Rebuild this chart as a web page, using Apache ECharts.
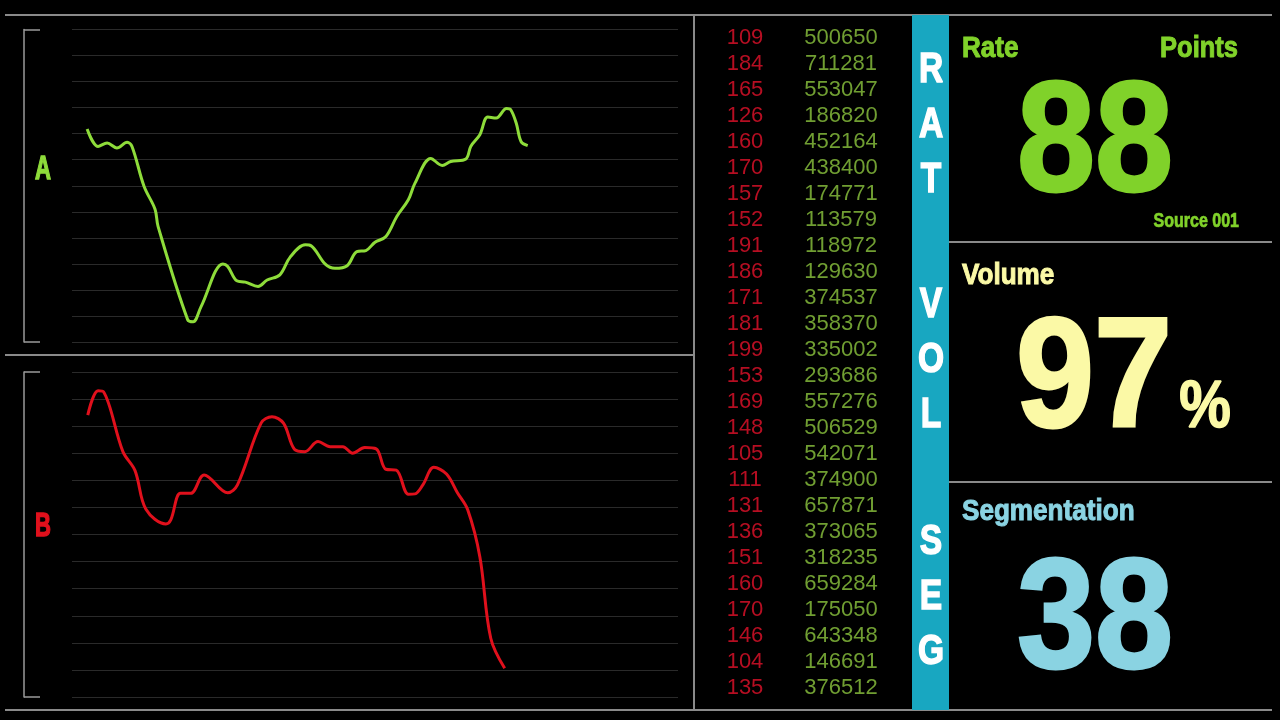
<!DOCTYPE html>
<html><head><meta charset="utf-8">
<script src="https://cdn.jsdelivr.net/npm/echarts@6/dist/echarts.min.js"></script>
<style>html,body{margin:0;padding:0;background:#000;}#c{width:1280px;height:720px;}</style>
</head><body><div id="c"></div>
<script>
// ---- data ----
const xA = [2.5,4.3,5.8,7.4,9.1,9.9,11.9,13.7,14.2,19.1,20.0,21.3,24.9,25.7,27.2,28.6,30.7,32.2,34.3,36.0,38.5,39.5,41.8,43.4,45.4,47.0,48.5,50.0,51.8,53.6,55.5,56.6,59.2,61.1,62.5,65.0,65.8,67.3,68.6,70.0,71.7,72.4,73.3,74.1,75.2];
const yA = [8.18,7.51,7.64,7.45,7.67,7.51,5.97,5.10,4.44,0.85,0.78,1.36,3.0,2.9,2.35,2.30,2.13,2.38,2.58,3.26,3.73,3.69,2.99,2.83,2.93,3.47,3.51,3.83,4.05,4.82,5.46,6.10,7.05,6.78,6.93,7.03,7.51,7.96,8.64,8.60,8.97,8.92,8.41,7.70,7.54];
const xB = [2.6,4.3,5.2,8.4,10.4,12.2,15.5,16.3,17.9,19.6,21.8,25.7,27.3,31.2,33.0,34.9,36.7,38.4,40.6,42.6,44.7,46.3,48.3,50.2,51.8,53.5,55.5,56.6,57.9,59.7,61.8,63.6,65.3,67.3,69.1,71.4];
const yB = [10.41,11.31,11.27,9.06,8.36,6.93,6.39,6.54,7.52,7.52,8.20,7.54,7.83,10.11,10.35,10.11,9.15,9.06,9.43,9.24,9.24,9.00,9.21,9.16,8.41,8.38,7.49,7.50,7.83,8.48,8.23,7.54,6.91,5.18,2.17,1.06];
const rateCol = [109,184,165,126,160,170,157,152,191,186,171,181,199,153,169,148,105,111,131,136,151,160,170,146,104,135];
const volCol = [500650,711281,553047,186820,452164,438400,174771,113579,118972,129630,374537,358370,335002,293686,557276,506529,542071,374900,657871,373065,318235,659284,175050,643348,146691,376512];
const rowIdx = rateCol.map((v,i)=>String(i));
const kpiLabels = ['Rate','Volume','Segmentation'];
const kpiValues = [88, 97, 38];
const sideTags = ['RAT','VOL','SEG'];

const FAM = "'Liberation Sans',Arial,sans-serif";
const grayLine = '#8a8a8a';
const gridCol = '#2a2a2a';
const GREEN = '#80d22a', YELLOW = '#fbf9a6', BLUE = '#8ad3e2';

const chart = echarts.init(document.getElementById('c'), null, {renderer:'canvas'});

function yPair(gi){
  return [
    {type:'value', gridIndex:gi, min:0, max:12, interval:1,
     axisLine:{show:false}, axisTick:{show:false}, axisLabel:{show:false},
     splitLine:{show:true, lineStyle:{color:gridCol, width:1}}},
    {type:'value', gridIndex:gi, min:0, max:12, interval:12, position:'left', offset:48,
     axisLine:{show:true, lineStyle:{color:'#9a9a9a', width:1.5}},
     axisTick:{show:true, inside:true, length:16, lineStyle:{color:'#9a9a9a', width:1.5}},
     axisLabel:{show:false}, splitLine:{show:false}}
  ];
}

function txt(x, y, s, color, size, align, sx, sw){
  return {type:'text', x:x, y:y, scaleX:sx,
    style:{text:s, fill:color, stroke:color, lineWidth:sw, fontFamily:FAM, fontWeight:'bold', fontSize:size,
           align:align, verticalAlign:'middle'}};
}

const graphics = [
  {type:'line', shape:{x1:5,y1:15,x2:1272,y2:15}, style:{stroke:grayLine,lineWidth:2}},
  {type:'line', shape:{x1:5,y1:710,x2:1272,y2:710}, style:{stroke:grayLine,lineWidth:2}},
  {type:'line', shape:{x1:694,y1:15,x2:694,y2:710}, style:{stroke:grayLine,lineWidth:2}},
  {type:'line', shape:{x1:5,y1:355,x2:694,y2:355}, style:{stroke:grayLine,lineWidth:2}},
  {type:'line', shape:{x1:948,y1:242,x2:1272,y2:242}, style:{stroke:grayLine,lineWidth:2}},
  {type:'line', shape:{x1:948,y1:482,x2:1272,y2:482}, style:{stroke:grayLine,lineWidth:2}},
  {type:'rect', shape:{x:912,y:15,width:37,height:695}, style:{fill:'#18a7c1'}},
  txt(43, 170, 'A', '#8edc3a', 34, 'center', 0.65, 1.5),
  txt(43, 527, 'B', '#e0101c', 34, 'center', 0.65, 1.5),
  txt(962, 49, kpiLabels[0], GREEN, 30, 'left', 0.87, 1),
  txt(1238, 49, 'Points', GREEN, 30, 'right', 0.85, 1),
  txt(1095, 147, String(kpiValues[0]), GREEN, 156, 'center', 0.9, 3),
  txt(1239, 221, 'Source 001', GREEN, 20, 'right', 0.8, 0.7),
  txt(962, 276, kpiLabels[1], YELLOW, 30, 'left', 0.87, 1),
  txt(1094, 383, String(kpiValues[1]), YELLOW, 156, 'center', 0.9, 3),
  txt(1205, 409, '%', YELLOW, 66, 'center', 0.88, 1.5),
  txt(962, 512, kpiLabels[2], BLUE, 30, 'left', 0.87, 1),
  txt(1095, 624, String(kpiValues[2]), BLUE, 156, 'center', 0.9, 3)
];
const tagStart = [70, 305, 542];
sideTags.forEach((t,k)=>{
  t.split('').forEach((ch,j)=>{
    graphics.push(txt(931, tagStart[k]+j*55, ch, '#ffffff', 43, 'center', 0.78, 1.5));
  });
});

const option = {
  backgroundColor:'#000',
  animation:false,
  grid:[
    {left:72, right:602, top:29.5, bottom:378},
    {left:72, right:602, top:372, bottom:23},
    {left:697, right:391, top:25, bottom:19}
  ],
  xAxis:[
    {type:'value', gridIndex:0, min:0, max:100, show:false},
    {type:'value', gridIndex:1, min:0, max:100, show:false},
    {type:'category', gridIndex:2, data:['rate','vol'], show:false}
  ],
  yAxis:[
    ...yPair(0), ...yPair(1),
    {type:'category', gridIndex:2, data:rowIdx, inverse:true, show:false}
  ],
  series:[
    {type:'line', xAxisIndex:0, yAxisIndex:0, data:xA.map((x,i)=>[x,yA[i]]),
     smooth:0.35, showSymbol:false, lineStyle:{color:'#8edc3a', width:3}},
    {type:'line', xAxisIndex:1, yAxisIndex:2, data:xB.map((x,i)=>[x,yB[i]]),
     smooth:0.35, showSymbol:false, lineStyle:{color:'#e0101c', width:3}},
    {type:'scatter', xAxisIndex:2, yAxisIndex:4, symbolSize:0,
     data:rateCol.map((v,i)=>[0,i,v]),
     label:{show:true, position:'inside', formatter:p=>p.value[2], color:'#e3122a',
            fontFamily:FAM, fontSize:22}},
    {type:'scatter', xAxisIndex:2, yAxisIndex:4, symbolSize:0,
     data:volCol.map((v,i)=>[1,i,v]),
     label:{show:true, position:'inside', formatter:p=>p.value[2], color:'#8cc63f',
            fontFamily:FAM, fontSize:22}}
  ],
  graphic: graphics
};
chart.setOption(option);
</script></body></html>
